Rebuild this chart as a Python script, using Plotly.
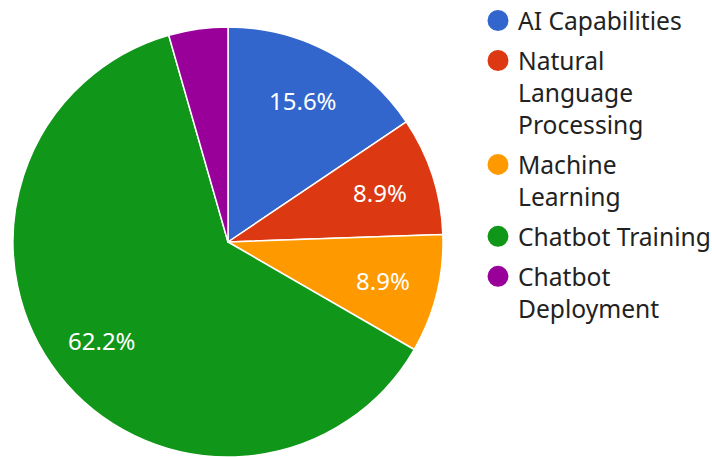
import math
import plotly.graph_objects as go

labels = ["AI Capabilities", "Natural Language Processing", "Machine Learning",
          "Chatbot Training", "Chatbot Deployment"]
legend_names = ["AI Capabilities", "Natural<br>Language<br>Processing", "Machine<br>Learning",
                "Chatbot Training", "Chatbot<br>Deployment"]
values = [7, 4, 4, 28, 2]
colors = ["#3366cc", "#dc3912", "#ff9900", "#109618", "#990099"]
show_label = [True, True, True, True, False]

W, H = 712, 457
FONT = "Noto Sans"
R = 215
CX, CY = 13 + R, H - R  # pixel centre of the pie

fig = go.Figure()
fig.add_trace(go.Pie(
    labels=labels, values=values, sort=False, direction="clockwise", rotation=0,
    marker=dict(colors=colors, line=dict(color="white", width=1.5)),
    textinfo="none",
    showlegend=False, hoverinfo="label+percent",
    domain=dict(x=[13 / W, (13 + 2 * R) / W], y=[0, 2 * R / H]),
))

# slice labels placed along each slice bisector (Google-Charts style)
total = sum(values)
cum = 0
for v, show in zip(values, show_label):
    a0 = cum / total * 2 * math.pi
    cum += v
    a1 = cum / total * 2 * math.pi
    if not show:
        continue
    mid = (a0 + a1) / 2
    px = CX + 0.745 * R * math.sin(mid)
    py = CY - 0.745 * R * math.cos(mid)
    fig.add_annotation(x=px / W, y=1 - py / H, xref="paper", yref="paper",
                       text=f"{v / total * 100:.1f}%", showarrow=False,
                       xanchor="center", yanchor="middle",
                       font=dict(family=FONT, size=24, color="white"))

for i, (name, c) in enumerate(zip(legend_names, colors)):
    fig.add_trace(go.Scatter(x=[None], y=[None], mode="markers", name=name,
                             legendgroup=f"g{i}",
                             marker=dict(color=c, size=16, symbol="circle",
                                         line=dict(color=c, width=8))))

fig.update_layout(
    width=W, height=H, margin=dict(l=0, r=0, t=0, b=0, autoexpand=False),
    paper_bgcolor="white", plot_bgcolor="white",
    xaxis=dict(visible=False), yaxis=dict(visible=False),
    font=dict(family=FONT, size=24, color="#222222"),
    legend=dict(x=478 / W, xanchor="left", y=1 + 2 / H, yanchor="top", valign="top",
                maxheight=450,
                font=dict(family=FONT, size=24.6, color="#222222"),
                bgcolor="rgba(0,0,0,0)", tracegroupgap=5),
)
fig.write_html("out.html")
